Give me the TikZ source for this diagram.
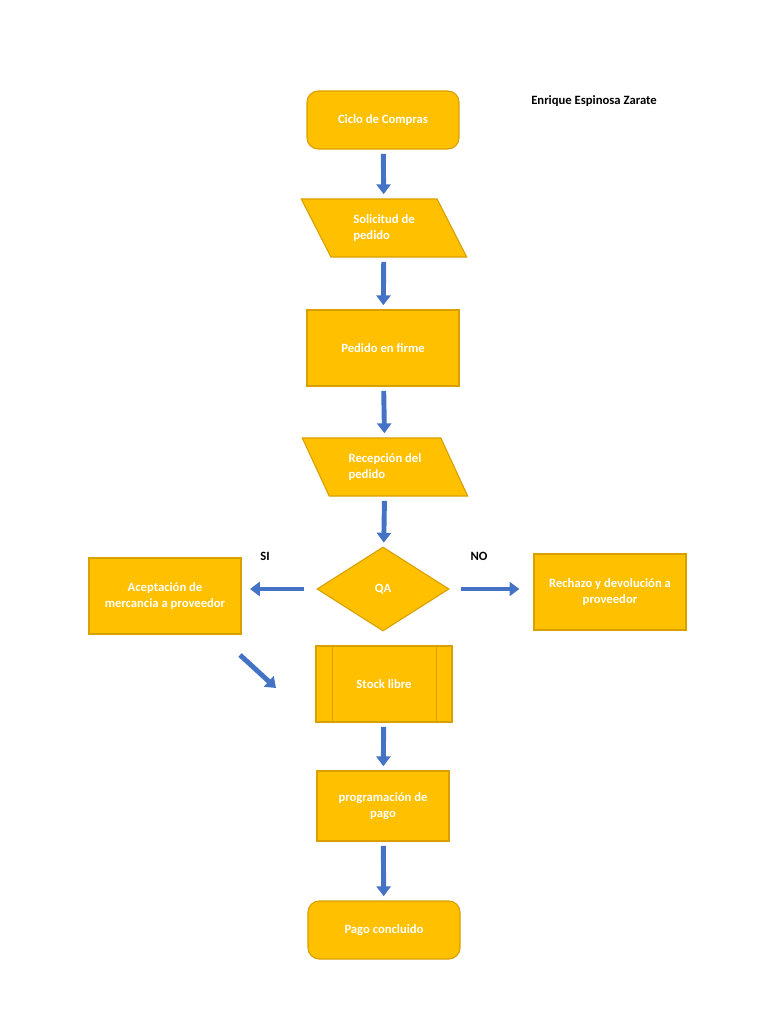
\documentclass[tikz,border=0pt]{standalone}
\usepackage{fontspec}
\setmainfont{Carlito}
\usepackage{tikz}
\usetikzlibrary{shapes.geometric, arrows.meta, positioning}

\definecolor{boxfill}{HTML}{FFC000}
\definecolor{boxline}{HTML}{D9A000}
\definecolor{arrowblue}{HTML}{4472C4}

\tikzset{
  box/.style={draw=boxline, fill=boxfill, line width=0.8pt, text=white,
    font=\bfseries\small, align=center},
  proc/.style={box, rectangle, minimum width=3.8cm, minimum height=1.9cm},
  term/.style={box, rectangle, rounded corners=8pt, minimum width=3.8cm, minimum height=1.45cm},
  data/.style={box, trapezium, trapezium left angle=119, trapezium right angle=61,
    trapezium stretches=true, minimum width=4.15cm, minimum height=1.45cm, align=left},
  decision/.style={box, diamond, aspect=1.55, minimum width=3.3cm, minimum height=2.1cm},
  flow/.style={arrowblue, line width=3.5pt, -{Triangle[width=10pt,length=7pt]},
    shorten <=3pt, shorten >=3pt},
  lbl/.style={font=\bfseries\small, text=black}
}

\begin{document}
\begin{tikzpicture}[x=0.025cm, y=-0.025cm]
\useasboundingbox (0,0) rectangle (768,1024);
	\node[term] (ciclo) at (383,120) {Ciclo de Compras};
	\node[lbl] (autor) at (594,101) {Enrique Espinosa Zarate};
	\node[data] (solicitud) at (384,228) {Solicitud de\\pedido};
	\node[proc] (firme) at (383,348) {Pedido en firme};
	\node[data] (recepcion) at (385,467) {Recepción del\\pedido};
	\node[decision] (qa) at (383,589) {QA};
	\node[proc] (acepta) at (165,596) {Aceptación de\\mercancia a proveedor};
	\node[proc] (rechazo) at (610,592) {Rechazo y devolución a\\proveedor};
	\node[proc, minimum width=3.4cm] (stock) at (384,684) {Stock libre};
	\draw[boxline, line width=0.8pt] ([xshift=17*0.025cm]stock.north west) -- ([xshift=17*0.025cm]stock.south west);
	\draw[boxline, line width=0.8pt] ([xshift=-16*0.025cm]stock.north east) -- ([xshift=-16*0.025cm]stock.south east);
	\node[proc, minimum width=3.3cm, minimum height=1.75cm] (programa) at (383,806) {programación de\\pago};
	\node[term] (pago) at (384,930) {Pago concluido};
	\node[lbl] (si) at (265,556) {SI};
	\node[lbl] (no) at (479,556) {NO};
	%
	\coordinate (diagA) at (240,655);
	\coordinate (diagB) at (276,688);
	\draw[flow] (ciclo) -- (solicitud);
	\draw[flow] (solicitud) -- (firme);
	\draw[flow] (firme) -- (recepcion);
	\draw[flow] (recepcion) -- (qa);
	\draw[flow, shorten <=9pt, shorten >=6pt] (qa.west) -- (acepta.east |- qa.west);
	\draw[flow, shorten <=8pt, shorten >=10pt] (qa.east) -- (rechazo.west |- qa.east);
	\draw[flow, shorten <=0pt, shorten >=0pt] (diagA) -- (diagB);
	\draw[flow] (stock) -- (programa);
	\draw[flow] (programa) -- (pago);
\end{tikzpicture}
\end{document}
